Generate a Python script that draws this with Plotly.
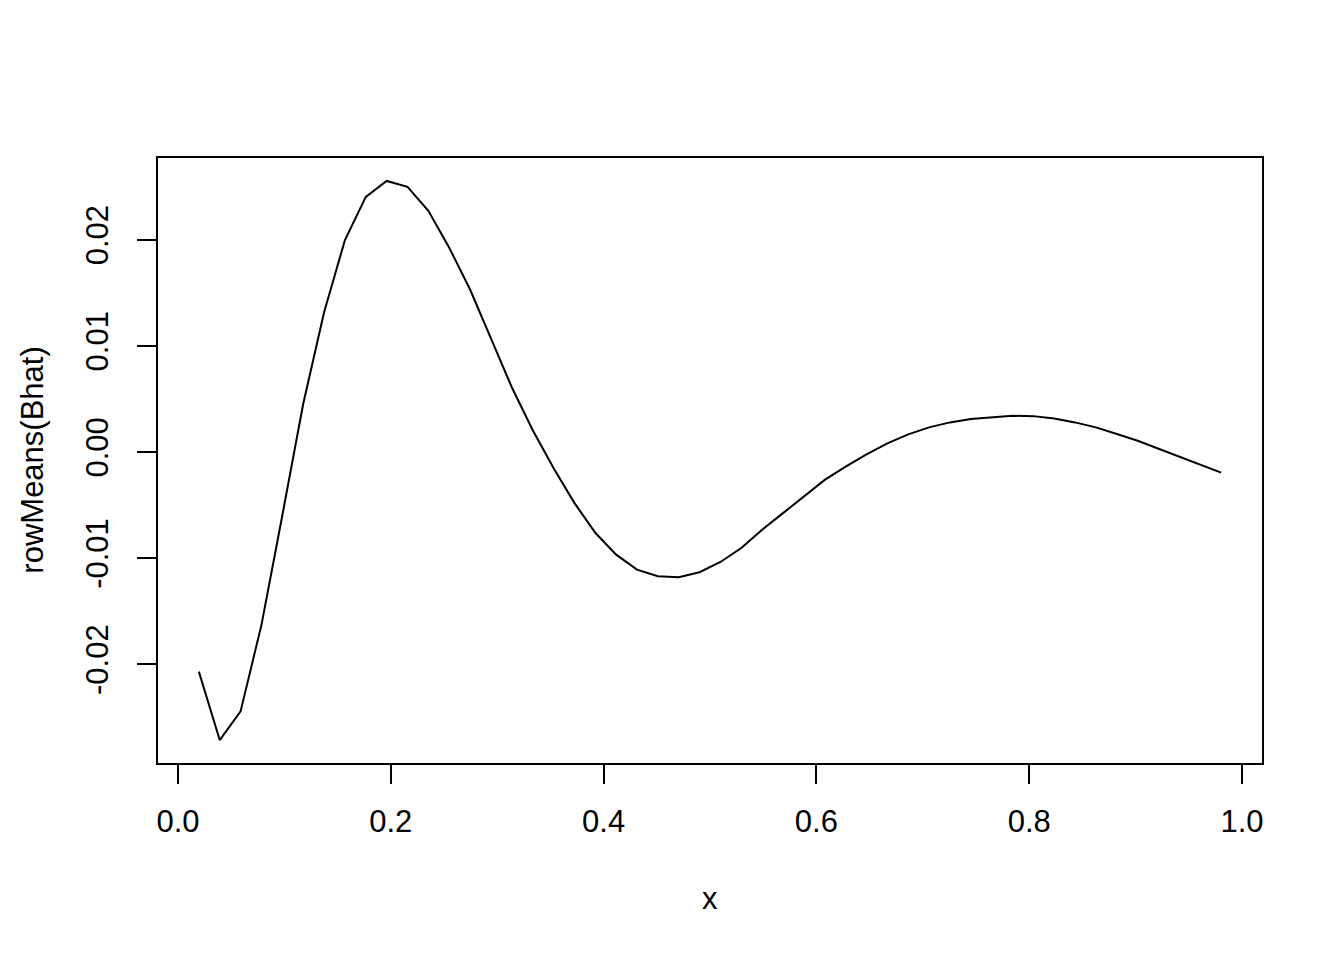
import plotly.graph_objects as go

# grid of x values (i/51, i = 1..50)
x = [0.0196, 0.0392, 0.0588, 0.0784, 0.0980, 0.1176, 0.1373, 0.1569, 0.1765, 0.1961,
     0.2157, 0.2353, 0.2549, 0.2745, 0.2941, 0.3137, 0.3333, 0.3529, 0.3725, 0.3922,
     0.4118, 0.4314, 0.4510, 0.4706, 0.4902, 0.5098, 0.5294, 0.5490, 0.5686, 0.5882,
     0.6078, 0.6275, 0.6471, 0.6667, 0.6863, 0.7059, 0.7255, 0.7451, 0.7647, 0.7843,
     0.8039, 0.8235, 0.8431, 0.8627, 0.8824, 0.9020, 0.9216, 0.9412, 0.9608, 0.9804]

# rowMeans(Bhat)
row_means = [-0.02069, -0.02714, -0.02444, -0.01631, -0.00600, 0.00450, 0.01317, 0.01997, 0.02404, 0.02554,
             0.02498, 0.02272, 0.01925, 0.01531, 0.01070, 0.00610, 0.00207, -0.00150, -0.00479, -0.00761,
             -0.00967, -0.01108, -0.01171, -0.01180, -0.01133, -0.01036, -0.00904, -0.00732, -0.00576, -0.00420,
             -0.00263, -0.00138, -0.00022, 0.00082, 0.00166, 0.00232, 0.00279, 0.00310, 0.00326, 0.00341,
             0.00338, 0.00316, 0.00279, 0.00232, 0.00169, 0.00106, 0.00031, -0.00044, -0.00119, -0.00194]

x_ticks = [0.0, 0.2, 0.4, 0.6, 0.8, 1.0]
x_labels = ["0.0", "0.2", "0.4", "0.6", "0.8", "1.0"]
y_ticks = [-0.02, -0.01, 0.0, 0.01, 0.02]
y_labels = ["-0.02", "-0.01", "0.00", "0.01", "0.02"]

font = dict(family="Liberation Sans, Arial, sans-serif", size=31, color="black")

fig = go.Figure()
fig.add_trace(go.Scatter(x=x, y=row_means, mode="lines",
                         line=dict(color="black", width=2), hoverinfo="x+y"))

# page body adds ~8px, so margins are pulled in a bit
fig.update_layout(
    width=1344, height=960,
    margin=dict(l=150, r=90, t=150, b=205),
    paper_bgcolor="white", plot_bgcolor="white",
    showlegend=False, font=font,
)
axis_style = dict(showgrid=False, zeroline=False, showline=True, mirror=True,
                  linecolor="black", linewidth=2, ticks="outside", ticklen=19,
                  tickwidth=2, tickcolor="black", tickfont=font)
fig.update_xaxes(range=[-0.0188, 1.0188], tickvals=x_ticks, ticktext=x_labels,
                 ticklabelstandoff=11, **axis_style)
fig.update_yaxes(range=[-0.0293, 0.0277], tickvals=y_ticks, ticktext=y_labels,
                 tickangle=-90, ticklabelstandoff=17, **axis_style)

fig.add_annotation(text="x", xref="paper", yref="paper", x=0.5, y=-0.224,
                   xanchor="center", yanchor="middle", showarrow=False, font=font)
fig.add_annotation(text="rowMeans(Bhat)", xref="paper", yref="paper", x=-0.114, y=0.5,
                   xanchor="center", yanchor="middle", textangle=-90, showarrow=False, font=font)

fig.write_html("out.html")
